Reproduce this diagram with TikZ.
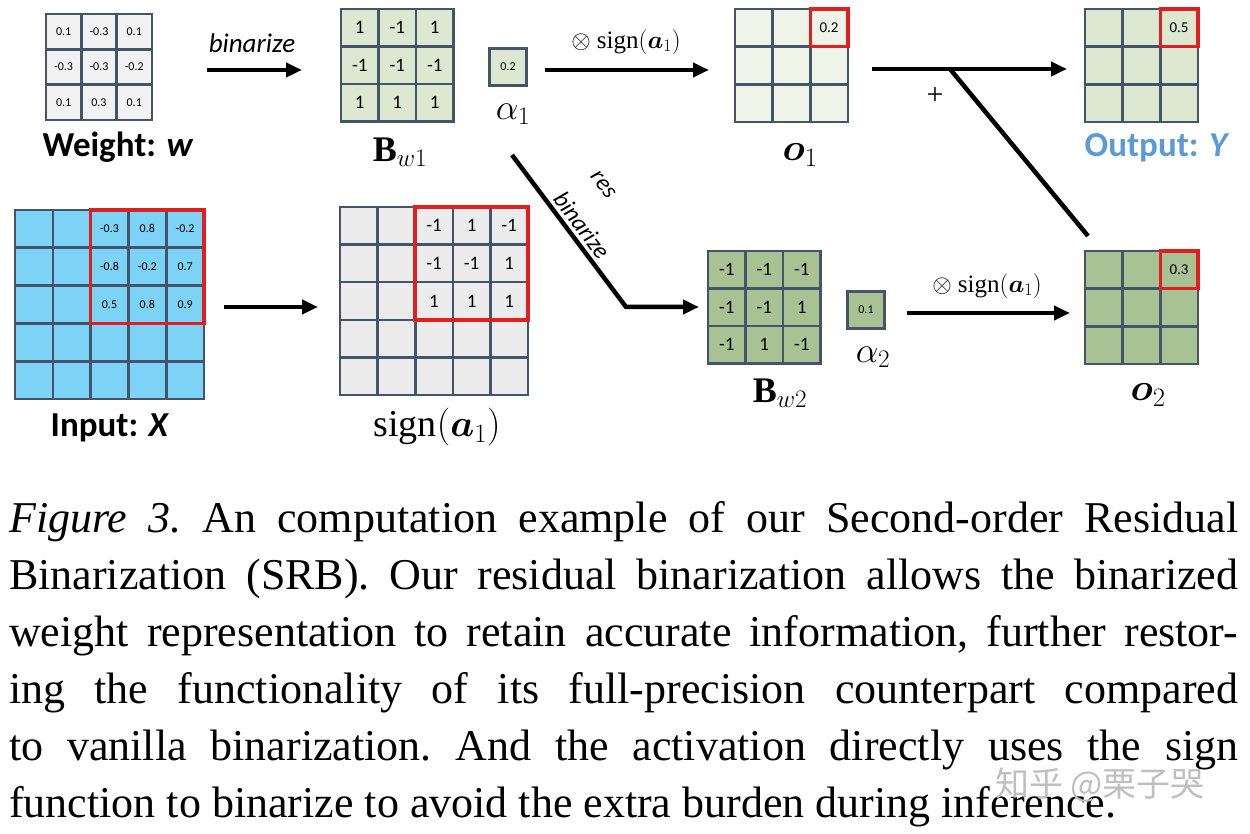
\RequirePackage{fix-cm}
\documentclass[tikz,border=0pt]{standalone}
\usepackage{amsmath,bm}
\usepackage{fontspec}
\setmainfont{Liberation Serif}
\newfontfamily\sans{Carlito}
\newfontfamily\cjk{Noto Sans CJK SC}
\usetikzlibrary{arrows.meta}
\definecolor{gline}{HTML}{44546A}
\definecolor{gwhite}{HTML}{F2F2F2}
\definecolor{glight}{HTML}{DCE9D0}
\definecolor{gvlight}{HTML}{EEF5E8}
\definecolor{gdark}{HTML}{A9C294}
\definecolor{gblue}{HTML}{7DD3F5}
\definecolor{ggray}{HTML}{ECECEC}
\definecolor{outblue}{HTML}{5B9BD5}
\definecolor{gred}{HTML}{E02020}
\tikzset{
 gridbox/.style={draw=gline,line width=2.6pt,inner sep=0pt,outer sep=0pt},
 gl/.style={draw=gline,line width=2.6pt},
 redbox/.style={draw=gred,line width=3.5pt},
 arr/.style={line width=4.5pt,-{Triangle[length=16pt,width=14pt]}},
 bar/.style={line width=4.5pt},
 lab/.style={inner sep=0pt},
 small/.style={font=\sans\fontsize{12}{12}\selectfont,inner sep=0pt},
 big/.style={font=\sans\fontsize{19}{19}\selectfont,inner sep=0pt},
}
\newcommand\mgrid[7]{%
 \node[gridbox,fill=#7,minimum width=#4*#6 pt,minimum height=#5*#6 pt,anchor=north west] (#1) at (#2,#3) {};
 \foreach \k in {1,...,#4}{\ifnum\k<#4 \draw[gl] ({#2+\k*#6},#3) -- ++(0,{#5*#6});\fi}
 \foreach \k in {1,...,#5}{\ifnum\k<#5 \draw[gl] (#2,{#3+\k*#6}) -- ++({#4*#6},0);\fi}
}
\newcommand\mcells[5]{% x0,y0,cell,style,list
 \foreach \c/\r/\t in {#5}{\node[#4] at ({#1+(\c-0.5)*#3},{#2+(\r-0.5)*#3}) {\t};}}
\begin{document}
\begin{tikzpicture}[x=1pt,y=-1pt]
\useasboundingbox (0,0) rectangle (1250,834);
% Weight
\mgrid{W}{46}{14}{3}{3}{35.3}{gwhite}
\mcells{46}{14}{35.3}{small}{1/1/0.1,2/1/-0.3,3/1/0.1,1/2/-0.3,2/2/-0.3,3/2/-0.2,1/3/0.1,2/3/0.3,3/3/0.1}
\node[lab,font=\sans\bfseries\fontsize{35}{35}\selectfont] (Wl) at (118,147) {Weight: \textit{w}};
\node[lab,font=\sans\itshape\fontsize{27}{27}\selectfont] (bl) at (252,43) {binarize};
\coordinate (a1s) at (207,70); \coordinate (a1e) at (302,70);
\draw[arr] (a1s) -- (a1e);
% Bw1
\mgrid{B1}{341}{9}{3}{3}{37.5}{glight}
\mcells{341}{9}{37.5}{big}{1/1/1,2/1/-1,3/1/1,1/2/-1,2/2/-1,3/2/-1,1/3/1,2/3/1,3/3/1}
\node[lab,font=\fontsize{36}{36}\selectfont] (B1l) at (400,152) {$\mathbf{B}_{w1}$};
% alpha1
\node[gridbox,fill=glight,minimum size=37pt,small] (al1) at (508,67) {0.2};
\node[lab,font=\fontsize{36}{36}\selectfont] (al1l) at (513,114) {$\alpha_1$};
\coordinate (a2s) at (545,70); \coordinate (a2e) at (709,70);
\draw[arr] (a2s) -- (a2e);
\node[lab,font=\fontsize{25}{25}\selectfont] (m1) at (626,42) {$\otimes$ sign$(\bm{a}_1)$};
% o1
\mgrid{O1}{735}{9}{3}{3}{37.7}{gvlight}
\draw[redbox] (810.4,9) rectangle (848,46.7);
\node[small,font=\sans\fontsize{15}{15}\selectfont] at (829,28) {0.2};
\node[lab,font=\fontsize{38}{38}\selectfont] (O1l) at (800,155) {$\bm{o}_1$};
% sum
\coordinate (ps) at (872,69); \coordinate (pj) at (950,69); \coordinate (pe) at (1067,69);
\draw[arr] (ps) -- (pe);
\coordinate (o2top) at (1088,236);
\draw[bar] (pj) -- (o2top);
\node[lab,font=\fontsize{30}{30}\selectfont] (plus) at (935,96) {+};
% output
\mgrid{Y}{1085}{9}{3}{3}{37.7}{glight}
\draw[redbox] (1160.4,9) rectangle (1198,46.7);
\node[small,font=\sans\fontsize{15}{15}\selectfont] at (1179,28) {0.5};
\node[lab,font=\sans\bfseries\fontsize{35}{35}\selectfont,text=outblue] (Yl) at (1157,148) {Output: \textit{Y}};
% input
\mgrid{X}{15}{210}{5}{5}{37.8}{gblue}
\draw[redbox] (90.6,210) rectangle (204,323.4);
\mcells{15}{210}{37.8}{small}{3/1/-0.3,4/1/0.8,5/1/-0.2,3/2/-0.8,4/2/-0.2,5/2/0.7,3/3/0.5,4/3/0.8,5/3/0.9}
\node[lab,font=\sans\bfseries\fontsize{35}{35}\selectfont] (Xl) at (110,428) {Input: \textit{X}};
\coordinate (a3s) at (224,307); \coordinate (a3e) at (318,307);
\draw[arr] (a3s) -- (a3e);
% sign
\mgrid{S}{340}{207}{5}{5}{37.6}{ggray}
\draw[redbox] (415.2,207) rectangle (528,319.8);
\mcells{340}{207}{37.6}{big}{3/1/-1,4/1/1,5/1/-1,3/2/-1,4/2/-1,5/2/1,3/3/1,4/3/1,5/3/1}
\node[lab,font=\fontsize{38}{38}\selectfont] (Sl) at (437,427) {sign$(\bm{a}_1)$};
% res binarize
\coordinate (rs) at (512,155); \coordinate (rk) at (626,307); \coordinate (re) at (699,307);
\draw[line width=4.5pt,-{Triangle[length=16pt,width=14pt]}] (rs) -- (rk) -- (re);
\node[lab,font=\sans\itshape\fontsize{24}{24}\selectfont,rotate=-53] (resl) at (603,185) {res};
\node[lab,font=\sans\itshape\fontsize{24}{24}\selectfont,rotate=-53] (binl) at (582,225) {binarize};
% Bw2
\mgrid{B2}{708}{251}{3}{3}{37.5}{gdark}
\mcells{708}{251}{37.5}{big}{1/1/-1,2/1/-1,3/1/-1,1/2/-1,2/2/-1,3/2/1,1/3/-1,2/3/1,3/3/-1}
\node[lab,font=\fontsize{36}{36}\selectfont] (B2l) at (780,393) {$\mathbf{B}_{w2}$};
\node[gridbox,fill=gdark,minimum size=37pt,small] (al2) at (866,310) {0.1};
\node[lab,font=\fontsize{36}{36}\selectfont] (al2l) at (873,357) {$\alpha_2$};
\coordinate (a4s) at (907,313); \coordinate (a4e) at (1070,313);
\draw[arr] (a4s) -- (a4e);
\node[lab,font=\fontsize{25}{25}\selectfont] (m2) at (987,286) {$\otimes$ sign$(\bm{a}_1)$};
% o2
\mgrid{O2}{1085}{251}{3}{3}{37.7}{gdark}
\draw[redbox] (1160.4,251) rectangle (1198,288.7);
\node[small,font=\sans\fontsize{15}{15}\selectfont] at (1179,270) {0.3};
\node[lab,font=\fontsize{38}{38}\selectfont] (O2l) at (1148,395) {$\bm{o}_2$};
% caption
\begin{scope}[every node/.style={anchor=base west,inner sep=0pt,font=\fontsize{44}{44}\selectfont\frenchspacing}]
\node (c1) at (9,532) {\makebox[1229pt][s]{\textit{Figure 3.} An computation example of our Second-order Residual}};
\node (c2) at (9,589) {\makebox[1229pt][s]{Binarization (SRB). Our residual binarization allows the binarized}};
\node (c3) at (9,646) {\makebox[1229pt][s]{weight representation to retain accurate information, further restor-}};
\node (c4) at (9,703) {\makebox[1229pt][s]{ing the functionality of its full-precision counterpart compared}};
\node (c5) at (9,760) {\makebox[1229pt][s]{to vanilla binarization. And the activation directly uses the sign}};
\node (c6) at (9,817) {function to binarize to avoid the extra burden during inference.};
\end{scope}
\node[lab,font=\cjk\fontsize{34}{34}\selectfont,text=black!25] (wm) at (1100,785) {知乎 @栗子哭};
\end{tikzpicture}
\end{document}
